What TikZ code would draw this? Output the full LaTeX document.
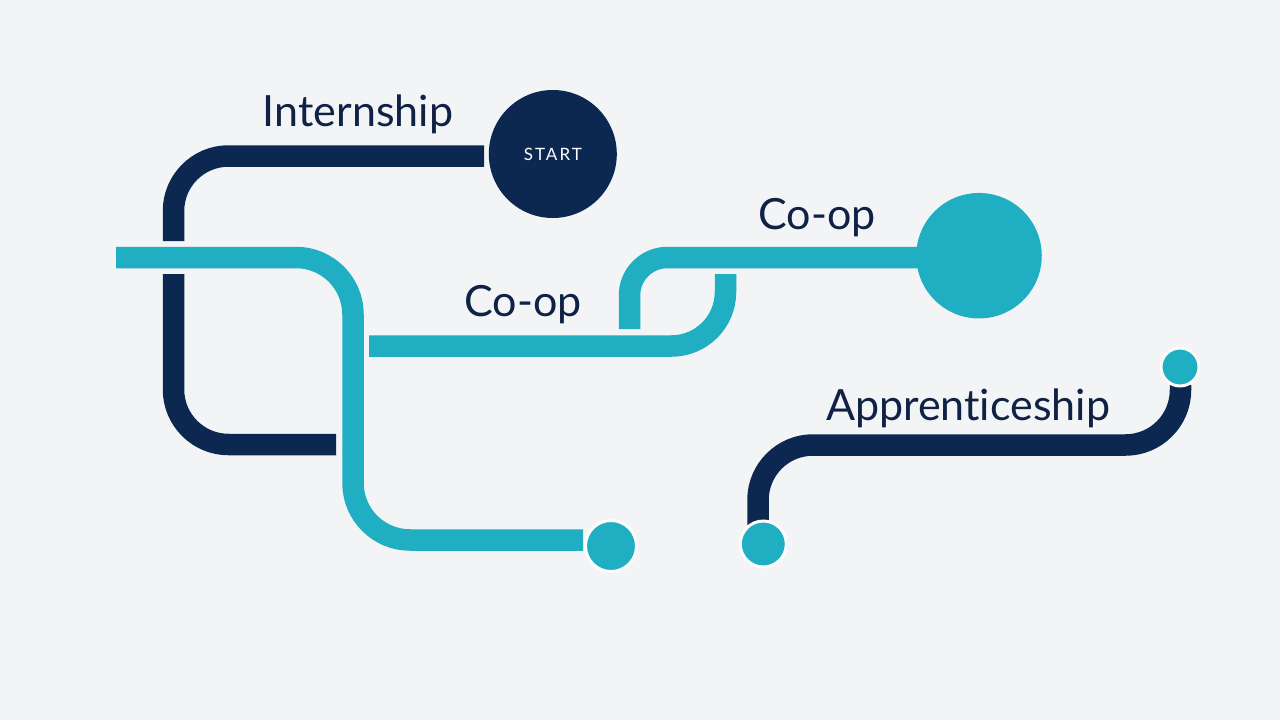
\documentclass[tikz,border=0pt]{standalone}
\usepackage{fontspec}
\setmainfont[Ligatures=NoCommon]{Lato}
\definecolor{bgc}{HTML}{F2F4F6}
\definecolor{navy}{HTML}{0D2850}
\definecolor{teal2}{HTML}{20AEC3}
\definecolor{inkc}{HTML}{0F2245}
\tikzset{
  navyline/.style={draw=navy,line width=21.5pt,line cap=butt},
  tealline/.style={draw=teal2,line width=21.5pt,line cap=butt},
  dot/.style={circle,fill=teal2,draw=white!70!bgc,line width=3pt,inner sep=0pt,outer sep=0pt},
  bigdot/.style={circle,inner sep=0pt,outer sep=0pt},
  lab/.style={text=inkc,font=\fontsize{43}{43}\selectfont,inner sep=0pt,anchor=base}
}
\begin{document}
\begin{tikzpicture}[x=1pt,y=-1pt]
\useasboundingbox (0,0) rectangle (1280,720);
\fill[bgc] (0,0) rectangle (1280,720);
% free ends and bends
\coordinate (n1a) at (484,156);
\coordinate (n1b) at (173.5,156);
\coordinate (n1c) at (173.5,241);
\coordinate (n2a) at (173.5,274);
\coordinate (n2b) at (173.5,444.5);
\coordinate (n2c) at (336,444.5);
\coordinate (t1a) at (116,257.5);
\coordinate (t1b) at (353,257.5);
\coordinate (t1c) at (353,540);
\coordinate (t1d) at (583,540);
\coordinate (t2a) at (369,346);
\coordinate (t2b) at (725.5,346);
\coordinate (t2c) at (725.5,274);
\coordinate (t3a) at (629.5,329);
\coordinate (t3b) at (629.5,257.5);
\coordinate (t3c) at (979,257.5);
\coordinate (a1) at (758,525);
\coordinate (a2) at (758,445);
\coordinate (a3) at (1180.5,445);
\coordinate (a4) at (1180.5,385);
% connectors
\draw[navyline,rounded corners=55pt] (n1a) -- (n1b) -- (n1c);
\draw[navyline,rounded corners=55pt] (n2a) -- (n2b) -- (n2c);
\draw[tealline,rounded corners=57pt] (t1a) -- (t1b) -- (t1c) -- (t1d);
\draw[tealline,rounded corners=54pt] (t2a) -- (t2b) -- (t2c);
\node[bigdot,fill=teal2,minimum size=125.5pt] (coop) at (979,255.7) {};
\draw[tealline,rounded corners=38pt] (t3a) -- (t3b) -- (t3c);
\draw[navyline,rounded corners=55pt] (a1) -- (a2) -- (a3) -- (a4);
% nodes
\node[bigdot,fill=navy,minimum size=128pt,text=white,font=\fontsize{17}{17}\selectfont\addfontfeature{LetterSpace=12}] (start) at (552.8,154) {START};
\node[dot,minimum size=51pt] (d1) at (611,546) {};
\node[dot,minimum size=46pt] (d2) at (763.3,544) {};
\node[dot,minimum size=38pt] (d3) at (1180,367) {};
% labels
\node[lab] (l1) at (358,126) {Internship};
\node[lab] (l2) at (523,316) {Co-op};
\node[lab] (l3) at (817,229) {Co-op};
\node[lab] (l4) at (968,420) {Apprenticeship};
\end{tikzpicture}
\end{document}
